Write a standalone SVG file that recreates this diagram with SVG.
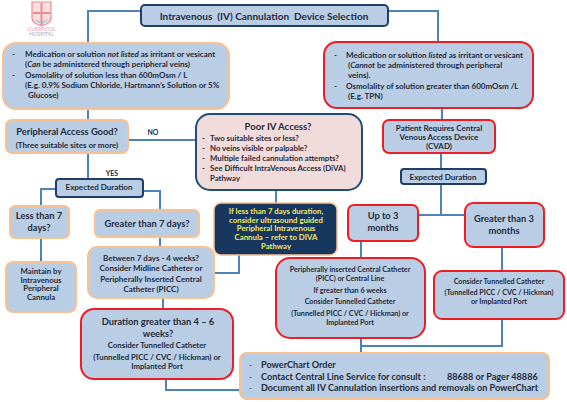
<svg xmlns="http://www.w3.org/2000/svg" width="567" height="402" viewBox="0 0 567 402">
<style>
text{font-family:Lato,"Liberation Sans",sans-serif;font-weight:700;fill:#1f2a3a;font-size:8px}
.m{text-anchor:middle}
.b{fill:#b9cde5;stroke-width:2}
.o{stroke:#fac090}.r{stroke:#f01c24}.n{stroke:#1f3f68}
.l{fill:none;stroke:#4f81bd;stroke-width:2}
.i{font-style:italic}
.y{fill:#f0e96a;font-size:7.800px}
.h{font-size:9.300px}.s{font-size:7.200px}.p{font-size:7.800px}.f{font-size:9.100px}.d{font-weight:400}.t{font-size:7.800px}.e{font-size:7.800px}
</style>
<g id="connectors">
<path class="l" d="M141 11H88V43M388 11H438V42M88 109V120M442 108V120M128 140H196M88 153V179M56 189H41V206M143 191H160V210M160 237V247M41 238V262M276 190V203M239 255V273H214M163 298V309M166 379V390H240M441 153V169M441 184V215M418 215H465M361 241V258M502 247V271M361 338V353M361 346H502V319"/>
</g>
<g id="logo">
<path d="M32 2H51V18Q51 23 41.500 26Q32 23 32 18Z" fill="#fbdfe0" stroke="#ee8a90" stroke-width="1.200"/>
<path d="M41.500 3V25M33 13H50" stroke="#ee8a90" stroke-width="2"/>
<path d="M36 20Q41.500 25 47 20" fill="none" stroke="#9cc5d5" stroke-width="1.500"/>
<text class="m" x="41.500" y="31" style="font-size:5.300px;font-weight:400;fill:#eaa0a6">LIVERPOOL</text>
<text class="m" x="41.500" y="36" style="font-size:5.300px;font-weight:400;fill:#a8aeb8">HOSPITAL</text>
</g>
<g id="title">
<rect class="b n" x="141" y="5" width="247" height="21" rx="4"/>
<text class="m" x="264" y="20" style="font-size:10px" xml:space="preserve">Intravenous  (IV) Cannulation  Device Selection</text>
</g>
<g id="not-listed">
<rect class="b o" x="3" y="43" width="226" height="66" rx="13"/>
<text x="12" y="57">-</text><text x="25" y="57">Medication or solution <tspan class="i">not listed</tspan> as irritant or vesicant</text>
<text x="25" y="67">(<tspan class="i">Can</tspan> be administered through peripheral veins)</text>
<text x="12" y="78">-</text><text x="25" y="78">Osmolality of solution less than 600mOsm / L</text>
<text x="25" y="88">(E.g. 0.9% Sodium Chloride, Hartmann’s Solution or 5%</text>
<text x="28" y="98">Glucose)</text>
</g>
<g id="listed">
<rect class="b r" x="324" y="42" width="209" height="66" rx="13"/>
<text x="334" y="58">-</text><text x="346" y="58">Medication or solution <tspan class="i">listed</tspan> as irritant or vesicant</text>
<text x="348" y="68">(<tspan class="i">Cannot</tspan>  be administered through peripheral</text>
<text x="348" y="78">veins).</text>
<text x="334" y="89">-</text><text x="346" y="89">Osmolality of solution greater than 600mOsm /L</text>
<text x="348" y="99">(E.g. TPN)</text>
</g>
<g id="peripheral">
<rect class="b o" x="6" y="120" width="122" height="33" rx="6"/>
<text class="m h" x="67" y="135">Peripheral Access Good?</text>
<text class="m" x="67" y="148">(Three suitable sites or more)</text>
</g>
<text class="m" x="153" y="135" style="font-size:7px">NO</text>
<text class="m" x="112" y="176" style="font-size:7px">YES</text>
<g id="poor">
<rect x="196" y="114" width="166" height="76" rx="14" fill="#f2dcdb" stroke="#1f4e79" stroke-width="2"/>
<text class="m" x="278" y="130" style="font-size:9.600px">Poor IV Access?</text>
<text x="202" y="141">-</text><text class="p" x="210" y="141">Two suitable sites or less?</text>
<text x="202" y="151">-</text><text class="p" x="210" y="151">No veins visible or palpable?</text>
<text x="202" y="161">-</text><text class="p" x="210" y="161">Multiple failed cannulation attempts?</text>
<text x="202" y="171">-</text><text class="p" x="210" y="171">See Difficult IntraVenous Access (DiVA)</text>
<text class="p" x="210" y="181">Pathway</text>
</g>
<g id="expected-left">
<rect class="b n" x="56" y="179" width="87" height="18" rx="3"/>
<text class="m" x="99" y="190">Expected Duration</text>
</g>
<g id="less-7">
<rect class="b o" x="10" y="206" width="59" height="32" rx="5"/>
<text class="m h" x="39" y="219">Less than 7</text>
<text class="m h" x="39" y="231">days?</text>
</g>
<g id="greater-7">
<rect class="b o" x="95" y="210" width="104" height="27" rx="5"/>
<text class="m h" x="147" y="227">Greater than 7 days?</text>
</g>
<g id="between">
<rect class="b o" x="88" y="247" width="126" height="51" rx="9"/>
<text class="m" x="151" y="261">Between 7 days - 4 weeks?</text>
<text class="m" x="151" y="271">Consider Midline Catheter or</text>
<text class="m" x="151" y="282">Peripherally Inserted Central</text>
<text class="m" x="151" y="292">Catheter (PICC)</text>
</g>
<g id="maintain">
<rect class="b o" x="6" y="262" width="70" height="50" rx="7"/>
<text class="m t" x="41" y="274">Maintain by</text>
<text class="m t" x="41" y="282.500">Intravenous</text>
<text class="m t" x="41" y="291">Peripheral</text>
<text class="m t" x="41" y="299.500">Cannula</text>
</g>
<g id="duration">
<rect class="b r" x="81" y="309" width="152" height="70" rx="13"/>
<text class="m h" x="158" y="325">Duration greater than 4 – 6</text>
<text class="m h" x="158" y="336.500">weeks?</text>
<text class="m e" x="157" y="348">Consider Tunnelled Catheter</text>
<text class="m e" x="157" y="360">(Tunnelled PICC / CVC / Hickman) or</text>
<text class="m e" x="157" y="369">Implanted Port</text>
</g>
<g id="navy">
<rect x="214" y="203" width="123" height="52" rx="7" fill="#17375e" stroke="#fac090" stroke-width="1.500"/>
<text class="m y" x="276" y="214">If less than 7 days duration,</text>
<text class="m y" x="276" y="222.700">consider ultrasound guided</text>
<text class="m y" x="276" y="231.400">Peripheral Intravenous</text>
<text class="m y" x="276" y="240.100">Cannula – refer to DIVA</text>
<text class="m y" x="276" y="248.800">Pathway</text>
</g>
<g id="cvad">
<rect class="b r" x="383" y="120" width="112" height="33" rx="6"/>
<text class="m" x="439" y="131">Patient Requires Central</text>
<text class="m" x="439" y="139.800">Venous Access Device</text>
<text class="m" x="439" y="148.500">(CVAD)</text>
</g>
<g id="expected-right">
<rect class="b n" x="401" y="169" width="85" height="15" rx="3"/>
<text class="m" x="443" y="179.500">Expected Duration</text>
</g>
<g id="up-3">
<rect class="b r" x="348" y="205" width="70" height="36" rx="6"/>
<text class="m h" x="383" y="219">Up to 3</text>
<text class="m h" x="383" y="231">months</text>
</g>
<g id="greater-3">
<rect class="b r" x="465" y="203" width="79" height="44" rx="8"/>
<text class="m h" x="504" y="222">Greater than 3</text>
<text class="m h" x="504" y="234">months</text>
</g>
<g id="picc">
<rect class="b r" x="276" y="258" width="149" height="80" rx="14"/>
<text class="m s" x="350" y="272">Peripherally inserted Central Catheter</text>
<text class="m s" x="350" y="281">(PICC) or Central Line</text>
<text class="m s" x="350" y="293">If greater than 6 weeks</text>
<text class="m s" x="350" y="304">Consider Tunnelled Catheter</text>
<text class="m s" x="350" y="316">(Tunnelled PICC / CVC / Hickman) or</text>
<text class="m s" x="350" y="325">Implanted Port</text>
</g>
<g id="tunnelled">
<rect class="b r" x="434" y="271" width="130" height="48" rx="8"/>
<text class="m s" x="499" y="284">Consider Tunnelled Catheter</text>
<text class="m s" x="499" y="295">(Tunnelled PICC / CVC / Hickman)</text>
<text class="m s" x="499" y="304">or Implanted Port</text>
</g>
<g id="bottom">
<rect class="b o" x="240" y="353" width="309" height="46" rx="7"/>
<text class="d" x="249" y="368">-</text><text class="f" x="261" y="368">PowerChart Order</text>
<text class="d" x="249" y="380">-</text><text class="f" x="261" y="380">Contact Central Line Service for consult :</text><text class="f" x="447" y="380">88688 or Pager 48886</text>
<text class="d" x="249" y="391">-</text><text class="f" x="261" y="391">Document all IV Cannulation insertions and removals on PowerChart</text>
</g>
</svg>
